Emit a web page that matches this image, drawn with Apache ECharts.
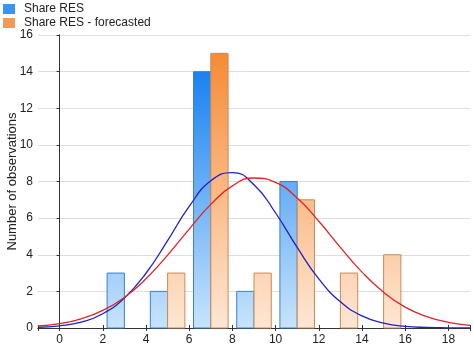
<!DOCTYPE html>
<html>
<head>
<meta charset="utf-8">
<script src="https://cdn.jsdelivr.net/npm/echarts@6/dist/echarts.min.js"></script>
<style>
html,body{margin:0;padding:0;background:#fff;}
#chart{width:474px;height:344px;}
</style>
</head>
<body>
<div id="chart"></div>
<script>
// ---- data ----
const seriesNames = ['Share RES', 'Share RES - forecasted'];
const binCenters = [3, 5, 7, 9, 11, 13, 15];
const shareRES = [3, 2, 14, 2, 8, 0, 0];
const shareRESForecasted = [0, 3, 15, 3, 7, 3, 4];
const curveX = [-1, 0, 1, 2, 3, 4, 5, 6, 7, 8, 9, 10, 11, 12, 13, 14, 15, 16, 17, 18, 19];
const normalRES = [0.04, 0.12, 0.32, 0.78, 1.64, 2.99, 4.77, 6.64, 8.04, 8.49, 7.82, 6.28, 4.40, 2.68, 1.43, 0.66, 0.27, 0.09, 0.03, 0.01, 0.0];
const normalForecasted = [0.11, 0.24, 0.50, 0.96, 1.67, 2.69, 3.98, 5.40, 6.75, 7.76, 8.19, 7.95, 7.10, 5.83, 4.40, 3.05, 1.95, 1.14, 0.62, 0.31, 0.14];
const yAxisName = 'Number of observations';

// ---- chart ----
const chart = echarts.init(document.getElementById('chart'));
const FONT = 'Liberation Sans, Arial, sans-serif';
const BAR_W = 0.8;

function makeRender(side, topColor, bottomColor, border) {
  return function (params, api) {
    const c = api.value(0), v = api.value(1);
    if (!v) return null;
    const x0 = side < 0 ? c - BAR_W : c;
    const x1 = side < 0 ? c : c + BAR_W;
    const p0 = api.coord([x0, v]);
    const p1 = api.coord([x1, 0]);
    const yTop = api.coord([0, 16])[1];
    const yBot = api.coord([0, 0])[1];
    return {
      type: 'rect',
      shape: { x: p0[0], y: p0[1], width: p1[0] - p0[0], height: p1[1] - p0[1] },
      style: {
        fill: new echarts.graphic.LinearGradient(0, yTop, 0, yBot, [
          { offset: 0, color: topColor },
          { offset: 1, color: bottomColor }
        ], true),
        stroke: border,
        lineWidth: 1
      }
    };
  };
}

const option = {
  animation: false,
  textStyle: { fontFamily: FONT },
  legend: {
    data: seriesNames,
    orient: 'vertical',
    left: 3,
    top: 3,
    itemWidth: 12,
    itemHeight: 10,
    itemGap: 2,
    icon: 'rect',
    textStyle: { fontSize: 12, color: '#222', fontFamily: FONT, padding: [0, 0, 0, 4] },
    padding: 0
  },
  grid: { left: 38, right: 4, top: 35, bottom: 16, containLabel: false, outerBoundsMode: 'none' },
  xAxis: [
    {
      type: 'value', min: -1, max: 19, splitNumber: 10,
      axisLine: { show: true, lineStyle: { color: '#333', width: 1 } },
      axisTick: { show: true, inside: true, length: 3, lineStyle: { color: '#333' } },
      axisLabel: {
        color: '#222', fontSize: 12, margin: 6, fontFamily: FONT,
        formatter: v => (v % 2 === 0 ? String(v) : '')
      },
      splitLine: { show: false }
    },
    {
      type: 'value', min: -1, max: 19, splitNumber: 10, position: 'top',
      axisLine: { show: true, lineStyle: { color: '#333', width: 1 } },
      axisTick: { show: true, inside: true, length: 3, lineStyle: { color: '#333' } },
      axisLabel: { show: false },
      splitLine: { show: false }
    }
  ],
  yAxis: [
    {
      type: 'value', min: 0, max: 16, interval: 2,
      name: yAxisName, nameLocation: 'middle', nameGap: 19, nameMoveOverlap: false,
      nameTextStyle: { fontSize: 13, color: '#222', fontFamily: FONT },
      axisLine: { show: true, lineStyle: { color: '#333', width: 1 } },
      axisTick: { show: false },
      axisLabel: { color: '#222', fontSize: 12, margin: 5, fontFamily: FONT },
      splitLine: { show: true, lineStyle: { color: '#dedede', width: 1 } }
    },
    {
      type: 'value', min: 0, max: 16, interval: 2, position: 'right',
      axisLine: { show: true, lineStyle: { color: '#333', width: 1 } },
      axisTick: { show: true, inside: true, length: 3, lineStyle: { color: '#333' } },
      axisLabel: { show: false },
      splitLine: { show: false }
    }
  ],
  series: [
    {
      name: seriesNames[0], type: 'custom', xAxisIndex: 0, yAxisIndex: 0,
      itemStyle: { color: '#3d93f2' },
      renderItem: makeRender(-1, '#0074ee', '#c8e4fd', '#3c7fcf'),
      data: binCenters.map((c, i) => [c, shareRES[i]]),
      z: 2
    },
    {
      name: seriesNames[1], type: 'custom', xAxisIndex: 0, yAxisIndex: 0,
      itemStyle: { color: '#f59a50' },
      renderItem: makeRender(1, '#f5852a', '#fee7d4', '#c98a5c'),
      data: binCenters.map((c, i) => [c, shareRESForecasted[i]]),
      z: 2
    },
    {
      name: 'Normal RES', type: 'line', smooth: true, showSymbol: false, silent: true,
      data: curveX.map((x, i) => [x, normalRES[i]]),
      lineStyle: { color: '#2020c8', width: 1.3 },
      z: 5
    },
    {
      name: 'Normal forecasted', type: 'line', smooth: true, showSymbol: false, silent: true,
      data: curveX.map((x, i) => [x, normalForecasted[i]]),
      lineStyle: { color: '#e02424', width: 1.3 },
      z: 5
    }
  ]
};
chart.setOption(option);
</script>
</body>
</html>
